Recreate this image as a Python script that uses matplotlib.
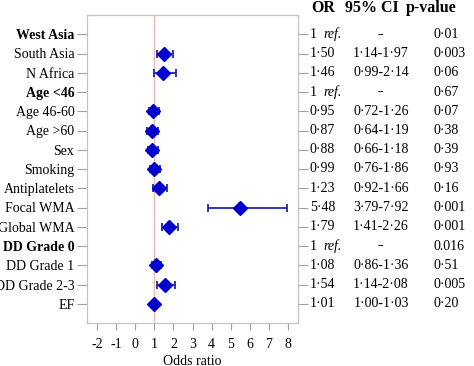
import matplotlib
matplotlib.use('Agg')
import matplotlib.pyplot as plt
import matplotlib.transforms as mtransforms

#data
labels = ['West Asia', 'South Asia', 'N Africa', 'Age <46', 'Age 46-60',
          'Age >60', 'Sex', 'Smoking', 'Antiplatelets', 'Focal WMA',
          'Global WMA', 'DD Grade 0', 'DD Grade 1', 'DD Grade 2-3', 'EF']
bold_rows = ['West Asia', 'Age <46', 'DD Grade 0']
odds = [None, 1.50, 1.46, None, 0.95, 0.87, 0.88, 0.99, 1.23, 5.48,
        1.79, None, 1.08, 1.54, 1.01]
ci_low = [None, 1.14, 0.99, None, 0.72, 0.64, 0.66, 0.76, 0.92, 3.79,
          1.41, None, 0.86, 1.14, 1.00]
ci_high = [None, 1.97, 2.14, None, 1.26, 1.19, 1.18, 1.30, 1.66, 7.92,
           2.26, None, 1.36, 2.08, 1.03]
or_text = ['1', '1·50', '1·46', '1', '0·95', '0·87', '0·88', '0·99', '1·23',
           '5·48', '1·79', '1', '1·08', '1·54', '1·01']
ci_text = ['--', '1·14-1·97', '0·99-2·14', '--', '0·72-1·26', '0·64-1·19',
           '0·66-1·18', '0·76-1·86', '0·92-1·66', '3·79-7·92', '1·41-2·26',
           '--', '0·86-1·36', '1·14-2·08', '1·00-1·03']
p_text = ['0·01', '0·003', '0·06', '0·67', '0·07', '0·38', '0·39', '0·93',
          '0·16', '0·001', '0·001', '0.016', '0·51', '0·005', '0·20']
xticks = [-2, -1, 0, 1, 2, 3, 4, 5, 6, 7, 8]

plt.rcParams['font.family'] = ['Liberation Serif', 'DejaVu Serif']
plt.rcParams['font.size'] = 10

W, H = 474, 366
fig = plt.figure(figsize=(W / 100, H / 100), dpi=100)
ax = fig.add_axes([87 / W, 43 / H, 211 / W, 308 / H])

rows = list(range(1, len(labels) + 1))

#reference line
ax.axvline(1, color='#f2b8b8', lw=1, zorder=1)

#points with confidence intervals
for y, o, lo, hi in zip(rows, odds, ci_low, ci_high):
    if o is None:
        continue
    ax.errorbar(o, y, xerr=[[o - lo], [hi - o]], fmt='D', color='#0000cd',
                ecolor='#2424a8', elinewidth=1.3, capsize=3, capthick=1.3,
                markersize=7.5, zorder=3)

ax.set_xlim(-2.52, 8.52)
ax.set_ylim(16, 0)
ax.set_xticks(xticks)
ax.set_xticklabels([str(t) for t in xticks])
ax.set_yticks(rows)
ax.set_yticklabels(labels)
for lab in ax.get_yticklabels():
    if lab.get_text() in bold_rows:
        lab.set_fontweight('bold')

ax.tick_params(axis='both', direction='out', color='#a0a0a0', length=6,
               labelsize=10, labelcolor='black')
ax.tick_params(axis='x', length=5, pad=6)
ax.tick_params(axis='y', right=True, length=7, pad=2)
for sp in ax.spines.values():
    sp.set_color('#c4c4c4')
    sp.set_linewidth(0.9)

ax.set_xlabel('Odds ratio', fontsize=10, labelpad=3)

#table columns
trans = mtransforms.blended_transform_factory(fig.transFigure, ax.transData)
for y, ot, ct, pt in zip(rows, or_text, ci_text, p_text):
    ax.text(310 / W, y, ot, transform=trans, ha='left', va='center',
            fontsize=10, clip_on=False)
    if ot == '1':
        ax.text(323 / W, y, 'ref.', transform=trans, ha='left', va='center',
                fontsize=10, style='italic', clip_on=False)
    if ct == '--':
        #two short separate dashes as in the original
        ax.text(381 / W, y, ct, transform=trans, ha='center', va='center',
                fontsize=7, fontweight='bold', clip_on=False)
    else:
        ax.text(381 / W, y, ct, transform=trans, ha='center', va='center',
                fontsize=10, clip_on=False)
    ax.text(434 / W, y, pt, transform=trans, ha='left', va='center',
            fontsize=10, clip_on=False)

#headers
hy = 1 - 8 / H
fig.text(323 / W, hy, 'OR', ha='center', va='center', fontsize=11.5,
         fontweight='bold')
fig.text(372 / W, hy, '95% CI', ha='center', va='center', fontsize=11.5,
         fontweight='bold')
fig.text(406 / W, hy, 'p-value', ha='left', va='center', fontsize=11.5,
         fontweight='bold')

fig.savefig('out.png', dpi=100)
